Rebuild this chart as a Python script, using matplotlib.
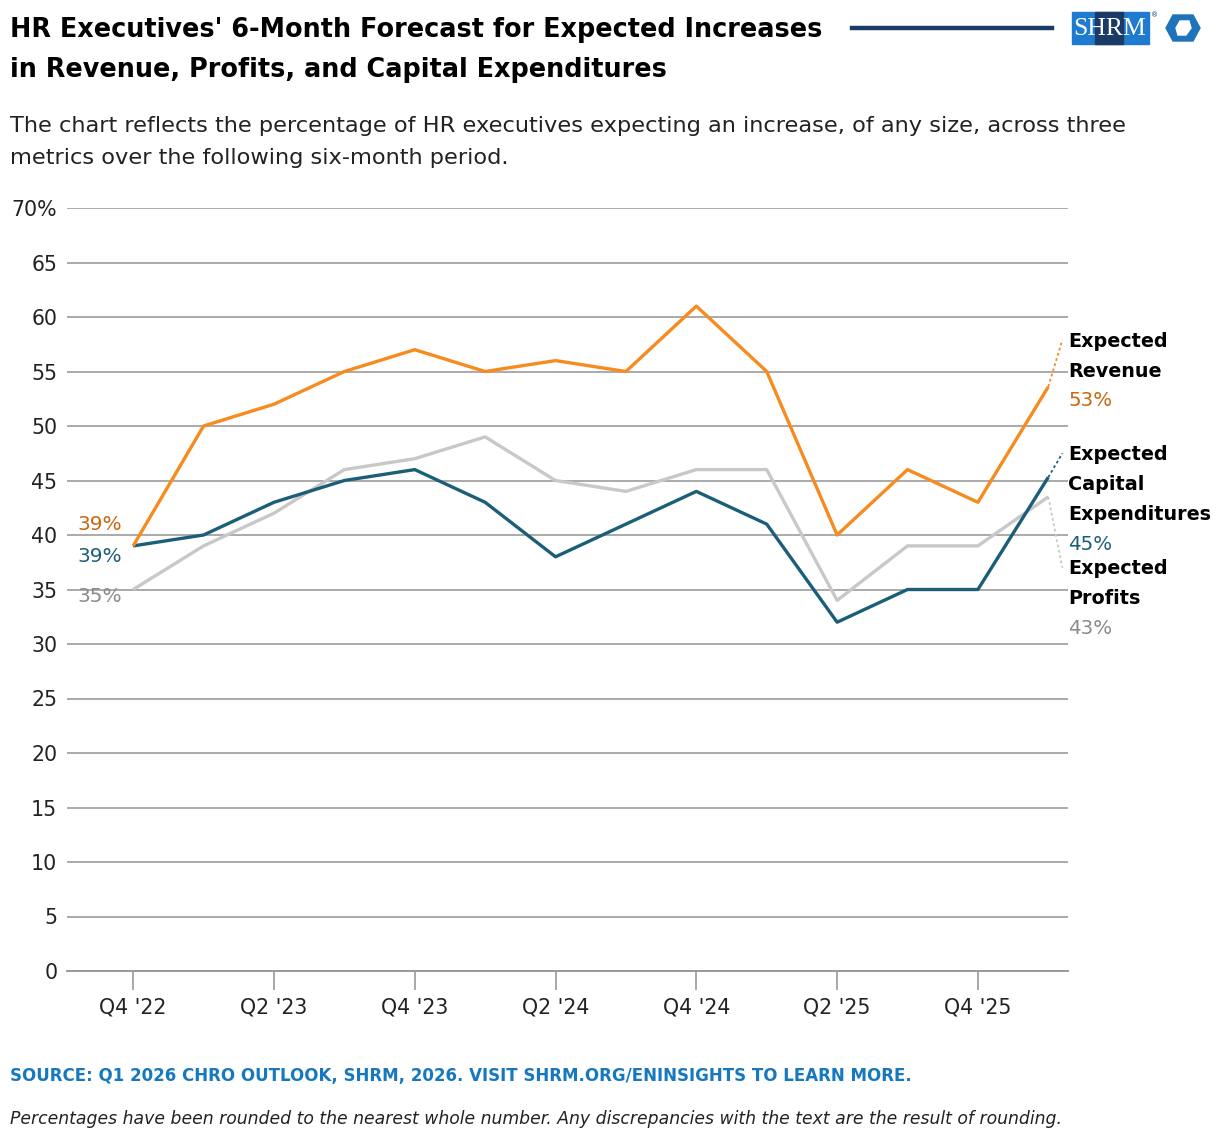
import numpy as np
import matplotlib.pyplot as plt
from matplotlib.patches import Rectangle, Polygon

plt.rcParams['font.family'] = ['DejaVu Sans']

quarters = ["Q4 '22", "Q1 '23", "Q2 '23", "Q3 '23", "Q4 '23", "Q1 '24", "Q2 '24",
            "Q3 '24", "Q4 '24", "Q1 '25", "Q2 '25", "Q3 '25", "Q4 '25", "Q1 '26"]
revenue = [39, 50, 52, 55, 57, 55, 56, 55, 61, 55, 40, 46, 43, 53.6]
capex = [39, 40, 43, 45, 46, 43, 38, 41, 44, 41, 32, 35, 35, 45.3]
profits = [35, 39, 42, 46, 47, 49, 45, 44, 46, 46, 34, 39, 39, 43.5]
yticks = [0, 5, 10, 15, 20, 25, 30, 35, 40, 45, 50, 55, 60, 65, 70]

orange = '#F68B1F'
orange_txt = '#C9660E'
teal = '#1B5E78'
gray = '#C8C8C8'
gray_txt = '#8A8A8A'

W, H = 1220, 1142
fig = plt.figure(figsize=(W / 100, H / 100), dpi=100)


def fx(px):
    return px / W


def fy(py):
    return 1 - py / H


ax = fig.add_axes([fx(67), fy(971), fx(1068) - fx(67), fy(208) - fy(971)])
x = np.arange(len(quarters))

ax.plot(x, profits, color=gray, lw=2.4, solid_capstyle='butt', zorder=3)
ax.plot(x, capex, color=teal, lw=2.4, solid_capstyle='butt', zorder=4)
ax.plot(x, revenue, color=orange, lw=2.4, solid_capstyle='butt', zorder=5)

# leader lines to right labels
n = len(quarters) - 1
ax.plot([n, n + 0.2], [revenue[-1], 57.9], color=orange, lw=1.3, ls=(0, (1.5, 1.5)), clip_on=False)
ax.plot([n, n + 0.2], [capex[-1], 47.5], color=teal, lw=1.3, ls=(0, (1.5, 1.5)), clip_on=False)
ax.plot([n, n + 0.2], [profits[-1], 37.0], color=gray, lw=1.3, ls=(0, (1.5, 1.5)), clip_on=False)

ax.set_xlim(-0.94, 13.28)
ax.set_ylim(0, 70)
ax.set_yticks(yticks)
ax.set_yticklabels([str(v) if v != 70 else '70%' for v in yticks])
ax.set_xticks(x[::2])
ax.set_xticklabels([quarters[i] for i in range(0, len(quarters), 2)])
ax.grid(axis='y', color='#AAAAAA', lw=1.4)
ax.set_axisbelow(True)
for s in ['top', 'right', 'left']:
    ax.spines[s].set_visible(False)
ax.spines['bottom'].set_color('#999999')
ax.spines['bottom'].set_linewidth(1.4)
ax.tick_params(axis='y', length=0, pad=7, labelsize=14.8, labelcolor='#222222')
ax.tick_params(axis='x', length=14, width=1.2, color='#999999', pad=5, labelsize=14.8,
               labelcolor='#222222')

# left start labels
ax.text(-0.16, 41.0, '39%', color=orange_txt, fontsize=14.5, ha='right', va='center')
ax.text(-0.16, 38.0, '39%', color=teal, fontsize=14.5, ha='right', va='center')
ax.text(-0.16, 34.4, '35%', color=gray_txt, fontsize=14.5, ha='right', va='center')

# right labels
rx = fx(1068)
fs = 13.8
fig.text(rx, fy(341), 'Expected', fontsize=fs, fontweight='bold', va='center')
fig.text(rx, fy(371), 'Revenue', fontsize=fs, fontweight='bold', va='center')
fig.text(rx, fy(400), '53%', fontsize=14.3, color=orange_txt, va='center')
fig.text(rx, fy(455), 'Expected', fontsize=fs, fontweight='bold', va='center')
fig.text(rx, fy(485), 'Capital', fontsize=fs, fontweight='bold', va='center')
fig.text(rx, fy(515), 'Expenditures', fontsize=fs, fontweight='bold', va='center')
fig.text(rx, fy(544), '45%', fontsize=14.3, color=teal, va='center')
fig.text(rx, fy(569), 'Expected', fontsize=fs, fontweight='bold', va='center')
fig.text(rx, fy(599), 'Profits', fontsize=fs, fontweight='bold', va='center')
fig.text(rx, fy(628), '43%', fontsize=14.3, color=gray_txt, va='center')

# titles
fig.text(fx(10), fy(30), "HR Executives' 6-Month Forecast for Expected Increases",
         fontsize=18.4, fontweight='bold', va='center')
fig.text(fx(10), fy(70), "in Revenue, Profits, and Capital Expenditures",
         fontsize=18.4, fontweight='bold', va='center')
fig.text(fx(10), fy(126), "The chart reflects the percentage of HR executives expecting an increase, of any size, across three",
         fontsize=16.2, va='center', color='#222222')
fig.text(fx(10), fy(158), "metrics over the following six-month period.",
         fontsize=16.2, va='center', color='#222222')

# header rule and logo
fig.add_artist(plt.Line2D([fx(852), fx(1052)], [fy(28), fy(28)], color='#1C3A66', lw=3.2))
fig.add_artist(Rectangle((fx(1072), fy(44)), fx(1149) - fx(1072), fy(12) - fy(44), color='#1E7BD0'))
fig.add_artist(Rectangle((fx(1095), fy(44)), fx(1123) - fx(1095), fy(12) - fy(44), color='#1C3A66'))
fig.text(fx(1110), fy(29), 'SHRM', fontsize=18.5, family='Liberation Serif', color='white',
         ha='center', va='center')
fig.text(fx(1151), fy(15), '®', fontsize=5, color='#1C3A66', va='center')
hexagon = [(1166, 28), (1173, 15), (1193, 15), (1200, 28), (1193, 41), (1173, 41)]
fig.add_artist(Polygon([(fx(a), fy(b)) for a, b in hexagon], color='#1F73B8'))
inner = [(1176, 28), (1180, 21), (1189, 21), (1191, 28), (1186, 35), (1178, 35)]
fig.add_artist(Polygon([(fx(a), fy(b)) for a, b in inner], color='white'))

# footer
fig.text(fx(10), fy(1076), "SOURCE: Q1 2026 CHRO OUTLOOK, SHRM, 2026. VISIT SHRM.ORG/ENINSIGHTS TO LEARN MORE.",
         fontsize=12.0, fontweight='bold', color='#1679C0', va='center')
fig.text(fx(10), fy(1119), "Percentages have been rounded to the nearest whole number. Any discrepancies with the text are the result of rounding.",
         fontsize=12.45, style='italic', color='#222222', va='center')

fig.savefig('out.png', dpi=100)
